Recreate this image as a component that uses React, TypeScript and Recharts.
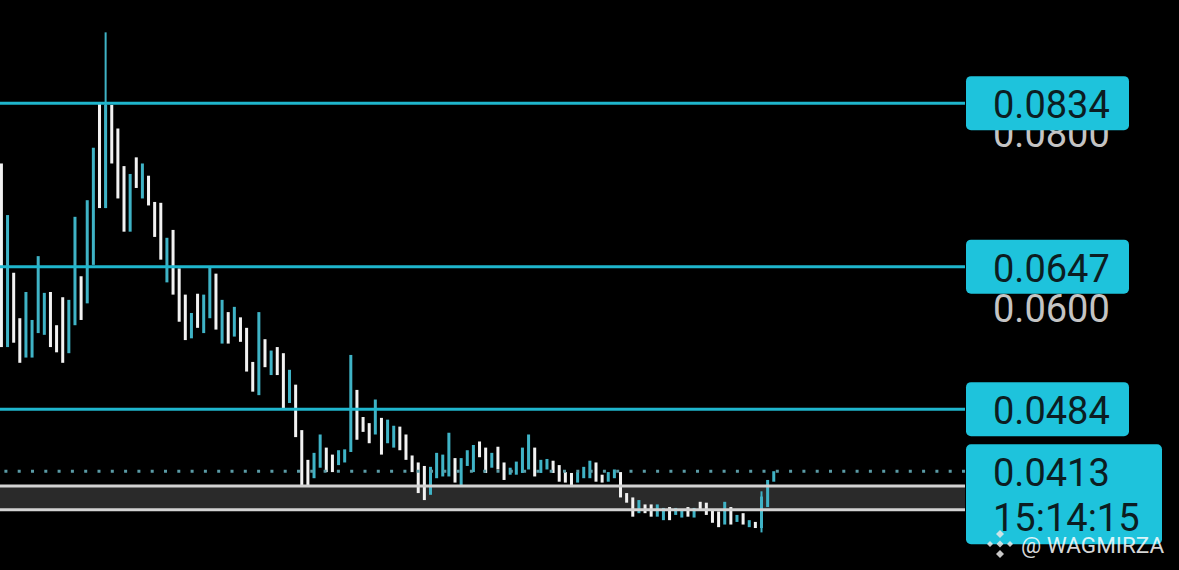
import {
  ComposedChart,
  Bar,
  XAxis,
  YAxis,
  ReferenceLine,
  ReferenceArea,
} from 'recharts';

// Candle colors
const UP_COLOR = '#3fb3c6';
const DOWN_COLOR = '#f2f2f2';
const LEVEL_COLOR = '#1fb6cd';
const TAG_COLOR = '#1ec3dc';

// Open / close of each candle (left to right)
const OPEN = [
  0.0765, 0.0555, 0.0640, 0.0588, 0.0543, 0.0543, 0.0571, 0.0569, 0.0618, 0.0580,
  0.0612, 0.0548, 0.0580, 0.0636, 0.0605, 0.0649, 0.0834, 0.0714, 0.0832, 0.0805,
  0.0762, 0.0687, 0.0772, 0.0725, 0.0751, 0.0721, 0.0720, 0.0629, 0.0689, 0.0645,
  0.0615, 0.0565, 0.0616, 0.0571, 0.0588, 0.0639, 0.0559, 0.0595, 0.0567, 0.0589,
  0.0577, 0.0538, 0.0500, 0.0564, 0.0523, 0.0555, 0.0548, 0.0491, 0.0512, 0.0460,
  0.0426, 0.0405, 0.0417, 0.0440, 0.0432, 0.0420, 0.0423, 0.0435, 0.0506, 0.0475,
  0.0468, 0.0455, 0.0474, 0.0445, 0.0440, 0.0464, 0.0455, 0.0431, 0.0423, 0.0419,
  0.0386, 0.0405, 0.0407, 0.0407, 0.0428, 0.0396, 0.0419, 0.0412, 0.0447, 0.0440,
  0.0417, 0.0441, 0.0423, 0.0409, 0.0409, 0.0411, 0.0415, 0.0440, 0.0411, 0.0415,
  0.0425, 0.0420, 0.0412, 0.0411, 0.0400, 0.0405, 0.0405, 0.0423, 0.0409, 0.0401,
  0.0405, 0.0412, 0.0388, 0.0383, 0.0365, 0.0375, 0.0375, 0.0361, 0.0357, 0.0372,
  0.0363, 0.0360, 0.0372, 0.0360, 0.0378, 0.0377, 0.0369, 0.0367, 0.0352, 0.0372,
  0.0355, 0.0365, 0.0349, 0.0355, 0.0348, 0.0372, 0.0401,
];

const CLOSE = [
  0.0555, 0.0706, 0.0560, 0.0537, 0.0618, 0.0586, 0.0659, 0.0617, 0.0555, 0.0549,
  0.0537, 0.0609, 0.0704, 0.0586, 0.0723, 0.0783, 0.0714, 0.0832, 0.0765, 0.0725,
  0.0687, 0.0753, 0.0737, 0.0765, 0.0717, 0.0681, 0.0655, 0.0680, 0.0615, 0.0584,
  0.0563, 0.0594, 0.0577, 0.0615, 0.0647, 0.0575, 0.0609, 0.0559, 0.0601, 0.0561,
  0.0527, 0.0504, 0.0595, 0.0532, 0.0551, 0.0523, 0.0485, 0.0529, 0.0452, 0.0395,
  0.0395, 0.0434, 0.0455, 0.0412, 0.0412, 0.0437, 0.0438, 0.0546, 0.0449, 0.0458,
  0.0445, 0.0495, 0.0432, 0.0472, 0.0465, 0.0437, 0.0426, 0.0412, 0.0388, 0.0380,
  0.0418, 0.0434, 0.0432, 0.0457, 0.0400, 0.0428, 0.0437, 0.0443, 0.0429, 0.0411,
  0.0434, 0.0415, 0.0403, 0.0417, 0.0424, 0.0440, 0.0455, 0.0407, 0.0426, 0.0427,
  0.0411, 0.0401, 0.0400, 0.0397, 0.0412, 0.0418, 0.0425, 0.0401, 0.0400, 0.0412,
  0.0415, 0.0383, 0.0377, 0.0361, 0.0380, 0.0365, 0.0361, 0.0375, 0.0371, 0.0357,
  0.0371, 0.0369, 0.0361, 0.0371, 0.0369, 0.0363, 0.0354, 0.0349, 0.0378, 0.0352,
  0.0363, 0.0352, 0.0357, 0.0348, 0.0384, 0.0403, 0.0413,
];

// Candles with a visible wick beyond the body (index -> high / low)
const WICKS: Record<number, { high: number; low: number }> = {
  17: { high: 0.0915, low: 0.0714 },
  124: { high: 0.0390, low: 0.0343 },
};

const LEVELS = [0.0834, 0.0647, 0.0484];
const LAST_PRICE = 0.0413;
const LAST_TIME = '15:14:15';
const RANGE_LOW = 0.0369;
const RANGE_HIGH = 0.0396;
const Y_TICKS = [0.06, 0.08];
const Y_DOMAIN = [0.03, 0.0952];

const data = OPEN.map((open, i) => {
  const close = CLOSE[i];
  const w = WICKS[i];
  const high = w ? w.high : Math.max(open, close);
  const low = w ? w.low : Math.min(open, close);
  return { i, open, close, high, low, range: [low, high] };
});

function Candle(props: any) {
  const { x, y, width, height, payload } = props;
  if (x == null || y == null) return null;
  const { open, close, high, low } = payload;
  const color = close >= open ? UP_COLOR : DOWN_COLOR;
  const top = height < 0 ? y + height : y;
  const h = Math.abs(height);
  const span = high - low || 1e-9;
  const px = h / span;
  const bodyTop = top + (high - Math.max(open, close)) * px;
  const bodyH = Math.max(1.5, Math.abs(close - open) * px);
  const cx = x + width / 2;
  const hasWick = high > Math.max(open, close) || low < Math.min(open, close);
  return (
    <g>
      {hasWick && (
        <line x1={cx} x2={cx} y1={top} y2={top + h} stroke={color} strokeWidth={2} />
      )}
      <rect x={x} y={bodyTop} width={width} height={bodyH} fill={color} />
    </g>
  );
}

// Price tag box drawn right of the plot area
function priceTag(lines: string[], boxWidth: number) {
  return (props: any) => {
    const { viewBox } = props;
    if (!viewBox) return null;
    const left = viewBox.x + viewBox.width + 1;
    const lineY = viewBox.y;
    const boxH = lines.length > 1 ? 100 : 54;
    return (
      <g>
        <rect x={left} y={lineY - 27} width={boxWidth} height={boxH} rx={5} fill={TAG_COLOR} />
        {lines.map((t, k) => (
          <text
            key={k}
            x={left + 27}
            y={lineY + 15 + k * 45}
            fontSize={38}
            fontFamily="Roboto, sans-serif"
            fill="#0c1d22"
          >
            {t}
          </text>
        ))}
      </g>
    );
  };
}

// Price scale label, drawn as a label so the tags can sit on top of it
function scaleLabel(value: number) {
  return (props: any) => {
    const { viewBox } = props;
    if (!viewBox) return null;
    return (
      <text
        x={viewBox.x + viewBox.width + 28}
        y={viewBox.y + 14}
        fontSize={38}
        fontFamily="Roboto, sans-serif"
        fill="#c4c4c4"
      >
        {value.toFixed(4)}
      </text>
    );
  };
}

function BinanceMark() {
  const d = (cx: number, cy: number, r: number) =>
    `M${cx} ${cy - r}L${cx + r} ${cy}L${cx} ${cy + r}L${cx - r} ${cy}Z`;
  return (
    <g fill="#eaeaea" opacity={0.85}>
      <path d={d(1000, 544, 3.5)} />
      <path d={d(1000, 534, 4)} />
      <path d={d(1000, 554, 4)} />
      <path d={d(990, 544, 3)} />
      <path d={d(1010, 544, 3)} />
    </g>
  );
}

export default function App() {
  return (
    <div
      style={{
        position: 'absolute',
        left: 0,
        top: 0,
        width: 1179,
        height: 570,
        background: '#000',
        overflow: 'hidden',
      }}
    >
      <ComposedChart
        width={1179}
        height={570}
        data={data}
        margin={{ top: 0, right: 0, bottom: 0, left: 0 }}
      >
        <XAxis type="number" dataKey="i" domain={[-0.16, 157.27]} hide allowDataOverflow />
        <YAxis
          orientation="right"
          width={214}
          domain={Y_DOMAIN}
          ticks={Y_TICKS}
          axisLine={false}
          tickLine={false}
          tick={false}
          allowDataOverflow
        />
        <ReferenceArea y1={RANGE_LOW} y2={RANGE_HIGH} fill="#2a2a2a" fillOpacity={1} stroke="none" />
        <ReferenceLine y={RANGE_HIGH} stroke="#d2d2d2" strokeWidth={3} />
        <ReferenceLine y={RANGE_LOW} stroke="#d2d2d2" strokeWidth={3} />
        {Y_TICKS.map((t) => (
          <ReferenceLine key={'t' + t} y={t} stroke="none" label={scaleLabel(t)} />
        ))}
        {LEVELS.map((lv) => (
          <ReferenceLine
            key={lv}
            y={lv}
            stroke={LEVEL_COLOR}
            strokeWidth={3}
            label={priceTag([lv.toFixed(4)], 163)}
          />
        ))}
        <ReferenceLine
          y={LAST_PRICE}
          stroke="#5a9ba6"
          strokeWidth={3}
          strokeDasharray="3 10.3"
          label={priceTag([LAST_PRICE.toFixed(4), LAST_TIME], 196)}
        />
        <Bar dataKey="range" barSize={3} shape={<Candle />} isAnimationActive={false} />
      </ComposedChart>
      <svg
        width={1179}
        height={570}
        style={{ position: 'absolute', left: 0, top: 0, pointerEvents: 'none' }}
      >
        <BinanceMark />
        <text
          x={1021}
          y={553}
          fontSize={22.5}
          fontFamily="Roboto, sans-serif"
          fill="#ffffff"
          fillOpacity={0.85}
        >
          @ WAGMIRZA
        </text>
      </svg>
    </div>
  );
}
